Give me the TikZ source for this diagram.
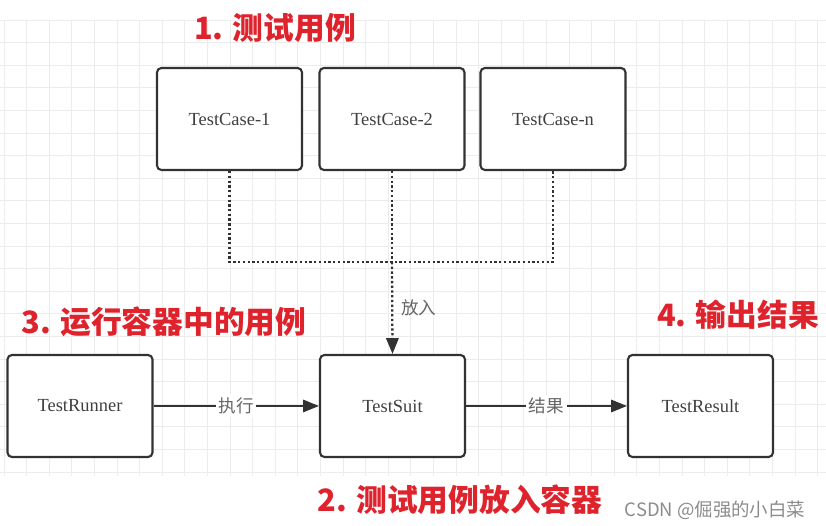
\documentclass[tikz,border=0pt]{standalone}
\usepackage{fontspec}
\setmainfont{Liberation Serif}
\newfontfamily\cjk{Noto Sans CJK SC}
\usepackage{tikz}
\usetikzlibrary{positioning, calc, arrows.meta}

\definecolor{stepred}{RGB}{222,35,45}
\definecolor{boxline}{RGB}{50,50,50}
\definecolor{gridgray}{RGB}{236,236,236}

\begin{document}
\begin{tikzpicture}[
        x=0.02cm, y=-0.02cm,
        unitbox/.style={rectangle, rounded corners=2.5pt, draw=boxline, line width=1.2pt, fill=white,
            minimum width=2.9cm, minimum height=2.04cm, align=center,
            font=\fontsize{10.5}{12}\selectfont, text=black!75},
        feed/.style={line width=1.3pt, draw=boxline, dash pattern=on 1.3pt off 1.4pt},
        flow/.style={-{Triangle[length=9pt, width=7pt]}, line width=1.1pt, draw=boxline},
        edgelabel/.style={font=\cjk\fontsize{10}{12}\selectfont, text=black!60},
        steptitle/.style={font=\cjk\bfseries\fontsize{17.5}{20}\selectfont, text=stepred}
    ]
        \useasboundingbox (0,0) rectangle (826,526);
        \fill[white] (0,0) rectangle (826,526);

        % background grid
        \foreach \gx in {4,26.6,...,826} {
            \draw[gridgray, line width=0.4pt] (\gx,20) -- (\gx,476);
        }
        \foreach \gy in {20,42.6,...,476} {
            \draw[gridgray, line width=0.4pt] (0,\gy) -- (826,\gy);
        }

        % test cases
        \node[unitbox] (case1) at (229.5,119) {TestCase-1};
        \node[unitbox] (case2) at (392,119) {TestCase-2};
        \node[unitbox] (casen) at (553,119) {TestCase-n};

        % runner, suit, result
        \node[unitbox] (runner) at (80,406) {TestRunner};
        \node[unitbox] (suit) at (392.5,406) {TestSuit};
        \node[unitbox] (result) at (700.5,406) {TestResult};

        \coordinate (join) at (392,262);

        \draw[feed] (case1.south) |- (join) -| (casen.south);
        \draw[feed] (case2.south) -- (join);
        \draw[feed, -{Triangle[length=9pt, width=7pt]}] (join) -- (suit.north)
            node[edgelabel, midway, right=1pt] {放入};

        \draw[flow] (runner.east) -- (suit.west)
            node[edgelabel, midway, fill=white, inner sep=1.5pt] {执行};
        \draw[flow] (suit.east) -- (result.west)
            node[edgelabel, midway, fill=white, inner sep=1.5pt] {结果};

        % step titles
        \node[steptitle] (title1) at (275,28) {1. 测试用例};
        \node[steptitle] (title3) at (164,322) {3. 运行容器中的用例};
        \node[steptitle] (title4) at (738,315) {4. 输出结果};
        \node[steptitle] (title2) at (460,500) {2. 测试用例放入容器};

        \node[font=\cjk\fontsize{10.5}{12}\selectfont, text=black!45] (mark) at (715,510) {CSDN @倔强的小白菜};
    \end{tikzpicture}
\end{document}
